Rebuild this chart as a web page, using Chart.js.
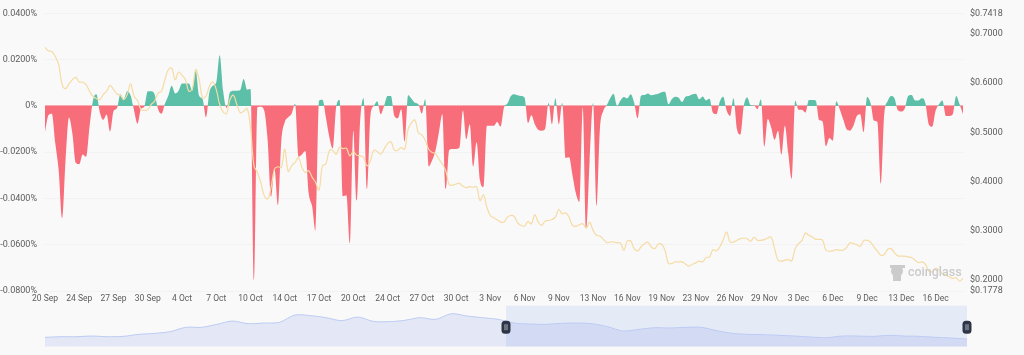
<!DOCTYPE html>
<html>
<head>
<meta charset="utf-8">
<title>Funding rate</title>
<script src="https://cdn.jsdelivr.net/npm/chart.js@4/dist/chart.umd.min.js"></script>
<style>
  html, body { margin: 0; padding: 0; width: 1024px; height: 355px; background: #f9f9f9; overflow: hidden; }
  canvas { position: absolute; left: 0; display: block; filter: blur(0.45px); }
  #mainChart { top: 0; }
  #miniChart { top: 305px; }
</style>
</head>
<body>
<canvas id="mainChart" width="1024" height="305"></canvas>
<canvas id="miniChart" width="1024" height="45"></canvas>
<script>
// x軸ラベル (10点ごと)
const tickLabels = ['20 Sep','24 Sep','27 Sep','30 Sep','4 Oct','7 Oct','10 Oct','14 Oct','17 Oct','20 Oct','24 Oct','27 Oct','30 Oct','3 Nov','6 Nov','9 Nov','13 Nov','16 Nov','19 Nov','23 Nov','26 Nov','29 Nov','3 Dec','6 Dec','9 Dec','13 Dec','16 Dec'];

// funding rate (%)
const fundingRate = [
  -0.0113,-0.004,-0.0034,-0.016,-0.028,-0.0485,-0.0235,-0.005,-0.012,-0.0246,
  -0.0252,-0.021,-0.022,-0.009,0.0023,0.005,-0.0027,-0.006,-0.0037,-0.011,
  -0.0023,-0.001,0.0051,0.003,0.0063,0.0045,-0.002,-0.0077,-0.0013,-0.0003,
  0.0063,0.0063,0.005,-0.0013,-0.0034,0.0009,0.0044,0.0087,0.0054,0.0066,
  0.0097,0.0097,0.0097,0.0066,0.0152,0.0044,0.003,-0.0049,0.0059,0.0087,
  0.0102,0.0219,0.0066,-0.0009,0.0059,0.0066,0.0066,0.0069,0.0116,0.007,
  0.0073,-0.0752,-0.0006,-0.0003,-0.002,-0.0149,-0.0392,-0.027,-0.0428,-0.0149,
  -0.007,-0.0049,-0.0034,0.0009,-0.022,-0.021,-0.0195,-0.0378,-0.0435,-0.0542,
  0.0023,0.0027,-0.0049,-0.0134,-0.0184,-0.0005,0.0026,-0.039,-0.0386,-0.0594,
  -0.0107,-0.0408,-0.0064,0.0033,-0.0358,-0.0043,0,0.002,-0.0036,0,
  0.0043,0.0043,-0.0043,-0.0053,-0.0014,-0.0154,0.0046,0.0031,0.0014,0.0007,
  -0.0033,0.0029,-0.0262,-0.0236,-0.0193,-0.0114,-0.0036,-0.0358,-0.019,-0.0186,
  -0.0186,-0.018,-0.002,-0.0143,-0.0079,-0.0262,-0.0157,-0.0322,-0.035,-0.0086,
  -0.0086,-0.0086,-0.0069,-0.0089,-0.0007,0.001,0.0043,0.0051,0.0046,0.0043,
  0.0036,-0.0074,-0.004,-0.0079,-0.0103,-0.0107,-0.01,0.0013,-0.0079,0.0033,
  -0.0079,0.0013,-0.0225,-0.0222,-0.03,-0.0379,-0.0415,-0.0007,-0.0529,-0.0236,
  0.0013,-0.0433,-0.01,-0.0021,0.0003,0.0033,0.0053,0,0.0024,0.0039,
  0.0033,0.0051,0.0014,-0.0053,0.0044,0.0047,0.0054,0.0046,0.0049,0.0053,
  0.0059,0.0061,0.0007,0.0029,0.004,0.0035,0.0017,0.004,0.0043,0.005,
  0.0053,0.0029,0.0041,0.0024,0.0031,-0.003,-0.0036,0.0019,0.004,-0.002,
  -0.0043,0.0033,-0.01,-0.0124,0,0.0036,0.0003,0.0002,-0.0014,0.0029,
  -0.0176,-0.0057,-0.0093,-0.0146,-0.0107,-0.021,-0.0086,-0.0207,-0.0315,0.0024,
  -0.0017,-0.0017,-0.0029,0.0026,0.0026,0.0024,-0.0061,-0.0067,-0.0174,-0.0139,
  -0.015,0.002,-0.0014,-0.0057,-0.01,-0.0107,-0.0086,-0.0043,-0.0036,-0.0114,
  0.0039,0.0014,-0.0064,-0.0069,-0.0336,-0.0036,0.002,0.0043,0.0033,-0.0019,
  -0.0024,-0.0011,0.0043,0.0047,0.0024,0.0024,0.0033,0.0014,-0.0079,-0.009,
  -0.0021,0.0007,0.0024,-0.0043,-0.0043,-0.0036,0.0043,0.0007,-0.0036
];

// 価格 ($)
const priceValues = [
  0.6727,0.6657,0.6645,0.6543,0.6375,0.5971,0.589,0.5985,0.6072,0.6119,
  0.6025,0.6018,0.5971,0.5836,0.5735,0.5688,0.5668,0.5769,0.5836,0.5957,
  0.587,0.5782,0.5755,0.5668,0.5769,0.5985,0.5735,0.5648,0.5466,0.5446,
  0.5466,0.5567,0.5634,0.5803,0.5836,0.6072,0.6274,0.6307,0.6072,0.6226,
  0.6159,0.6072,0.5836,0.589,0.6274,0.6072,0.5702,0.5735,0.5937,0.6025,
  0.587,0.5567,0.5419,0.5379,0.5668,0.5755,0.5567,0.5399,0.5432,0.5486,
  0.5096,0.4322,0.4187,0.3985,0.3716,0.3649,0.3884,0.4255,0.4302,0.4288,
  0.4658,0.4207,0.4322,0.4389,0.449,0.4288,0.4187,0.4221,0.4086,0.3985,
  0.3831,0.4322,0.4356,0.4625,0.4638,0.4557,0.47,0.4672,0.4678,0.4524,
  0.4611,0.4537,0.4524,0.449,0.4322,0.4423,0.4638,0.4611,0.4557,0.4658,
  0.4773,0.4806,0.4638,0.4638,0.4692,0.4658,0.5062,0.5197,0.5251,0.4995,
  0.4948,0.484,0.4658,0.4591,0.4571,0.4456,0.4356,0.4221,0.3938,0.3931,
  0.3952,0.3965,0.3905,0.3878,0.3898,0.3885,0.3898,0.3615,0.373,0.3481,
  0.3312,0.3265,0.3225,0.3178,0.3178,0.3279,0.3312,0.3292,0.3164,0.311,
  0.3097,0.3191,0.3144,0.3326,0.3178,0.311,0.3198,0.3211,0.3231,0.3279,
  0.3433,0.3346,0.3366,0.3279,0.311,0.309,0.3124,0.3144,0.3057,0.3178,
  0.301,0.2909,0.2895,0.2828,0.276,0.2774,0.2774,0.276,0.2753,0.2606,
  0.2794,0.2794,0.2639,0.2592,0.2673,0.274,0.2767,0.2673,0.2639,0.2727,
  0.2727,0.2606,0.2337,0.2337,0.237,0.237,0.237,0.2323,0.2283,0.2323,
  0.235,0.2384,0.237,0.2458,0.2471,0.2619,0.2592,0.2673,0.2821,0.2976,
  0.2774,0.2774,0.2808,0.2841,0.2855,0.2841,0.2787,0.2875,0.2808,0.2808,
  0.2821,0.2855,0.2875,0.2639,0.2404,0.2384,0.2404,0.2417,0.239,0.2639,
  0.274,0.2808,0.2956,0.2909,0.2875,0.2828,0.2828,0.2808,0.2606,0.2586,
  0.2592,0.2619,0.2606,0.2606,0.266,0.276,0.274,0.272,0.2686,0.2801,
  0.2808,0.2774,0.2673,0.2592,0.2505,0.2518,0.2626,0.2639,0.2552,0.2491,
  0.2485,0.2485,0.2471,0.2458,0.2404,0.2357,0.237,0.2323,0.2182,0.2168,
  0.2236,0.2202,0.2135,0.2101,0.2067,0.2034,0.2047,0.198,0.2034
];

const priceTicks = [0.1778, 0.2, 0.3, 0.4, 0.5, 0.6, 0.7, 0.7418];

// 下のスライダー用の概観データ
const overviewValues = [
  0.28,0.30,0.30,0.32,0.30,0.31,0.37,0.40,0.45,0.58,
  0.58,0.67,0.77,0.69,0.71,0.73,0.95,0.93,0.87,0.78,
  0.89,0.76,0.75,0.79,0.87,0.82,0.99,0.92,0.87,0.82,
  0.71,0.68,0.67,0.70,0.71,0.69,0.60,0.47,0.52,0.57,
  0.56,0.58,0.58,0.48,0.40,0.37,0.36,0.34,0.32,0.29,
  0.27,0.32,0.32,0.31,0.34,0.32,0.31,0.28,0.26,0.23
];
const selectedFrom = 29.5;

const categories = fundingRate.map((v, i) => i % 10 === 0 ? tickLabels[i / 10] : '');

const textColor = '#5c5c5c';
const tickFont = { family: 'Roboto', size: 9 };

// coinglass のウォーターマーク
const watermark = {
    id: 'watermark',
    afterDraw(chart) {
        const c = chart.ctx;
        c.save();
        c.fillStyle = '#cbcbcb';
        c.beginPath();
        c.arc(897, 271, 6, 0, Math.PI * 2);
        c.rect(893, 274, 8, 7);
        c.rect(890, 265, 15, 3);
        c.fill();
        c.font = '500 12.5px Roboto';
        c.textBaseline = 'middle';
        c.fillText('coinglass', 908, 273);
        c.restore();
    }
};

new Chart(document.getElementById('mainChart').getContext('2d'), {
    type: 'line',
    data: {
        labels: categories,
        datasets: [
            {
                data: priceValues,
                yAxisID: 'y1',
                borderColor: '#f6dba4',
                borderWidth: 1.2,
                tension: 0.4,
                pointRadius: 0,
                fill: false,
                order: 1
            },
            {
                data: fundingRate,
                yAxisID: 'y',
                borderWidth: 0,
                cubicInterpolationMode: 'monotone',
                pointRadius: 0,
                fill: { target: 'origin', above: '#5cc0a8', below: '#f76d7a' },
                order: 2
            }
        ]
    },
    options: {
        responsive: false,
        animation: false,
        layout: { padding: { top: 11.5 } },
        plugins: { legend: { display: false }, tooltip: { enabled: false } },
        scales: {
            x: {
                grid: { display: false, drawTicks: false, tickLength: 0 },
                border: { display: false },
                afterFit: s => { s.height = 14; },
                ticks: {
                    color: textColor, font: { family: 'Roboto', size: 8.5 }, autoSkip: false,
                    maxRotation: 0, minRotation: 0, padding: 3,
                    callback: (v, i) => categories[i]
                }
            },
            y: {
                position: 'left',
                min: -0.08,
                max: 0.04,
                afterFit: s => { s.width = 45; },
                grid: {
                    drawTicks: false,
                    color: c => c.tick.value === 0 ? '#f9a9b0' : '#f2f2f2'
                },
                border: { display: false },
                ticks: {
                    stepSize: 0.02, color: textColor, font: tickFont, padding: 8,
                    callback: v => Math.abs(v) < 1e-9 ? '0%' : v.toFixed(4) + '%'
                }
            },
            y1: {
                position: 'right',
                min: 0.1778,
                max: 0.7418,
                afterFit: s => { s.width = 61; },
                afterBuildTicks: s => { s.ticks = priceTicks.map(v => ({ value: v })); },
                grid: { display: false, drawTicks: false, tickLength: 0 },
                border: { display: false },
                ticks: {
                    color: textColor, font: tickFont, padding: 7,
                    callback: v => '$' + v.toFixed(4)
                }
            }
        }
    },
    plugins: [watermark]
});

// スライダーの選択範囲とハンドル
const sliderBand = {
    id: 'sliderBand',
    beforeDatasetsDraw(chart) {
        const { ctx, chartArea, scales } = chart;
        const left = scales.x.getPixelForValue(selectedFrom);
        ctx.save();
        ctx.fillStyle = 'rgba(116,146,232,0.15)';
        ctx.fillRect(left, chartArea.top, chartArea.right - left, chartArea.bottom - chartArea.top);
        ctx.restore();
    },
    afterDatasetsDraw(chart) {
        const { ctx, chartArea, scales } = chart;
        const mid = (chartArea.top + chartArea.bottom) / 2 + 1;
        [scales.x.getPixelForValue(selectedFrom), chartArea.right].forEach(x => {
            ctx.save();
            ctx.fillStyle = '#2e3646';
            ctx.beginPath();
            ctx.roundRect(x - 4.5, mid - 6.5, 9, 13, 3.5);
            ctx.fill();
            ctx.fillStyle = '#aab1c0';
            ctx.fillRect(x - 1.5, mid - 3, 1, 6);
            ctx.fillRect(x + 0.5, mid - 3, 1, 6);
            ctx.restore();
        });
    }
};

new Chart(document.getElementById('miniChart').getContext('2d'), {
    type: 'line',
    data: {
        labels: overviewValues.map((v, i) => i),
        datasets: [{
            data: overviewValues,
            borderColor: '#bccbf3',
            borderWidth: 1,
            pointRadius: 0,
            tension: 0.3,
            fill: 'origin',
            backgroundColor: 'rgba(116,146,232,0.16)'
        }]
    },
    options: {
        responsive: false,
        animation: false,
        layout: { padding: { left: 45, right: 57, top: 0.7, bottom: 3.3 } },
        plugins: { legend: { display: false }, tooltip: { enabled: false } },
        scales: {
            x: { display: false },
            y: { display: false, min: 0, max: 1.23 }
        }
    },
    plugins: [sliderBand]
});
</script>
</body>
</html>
